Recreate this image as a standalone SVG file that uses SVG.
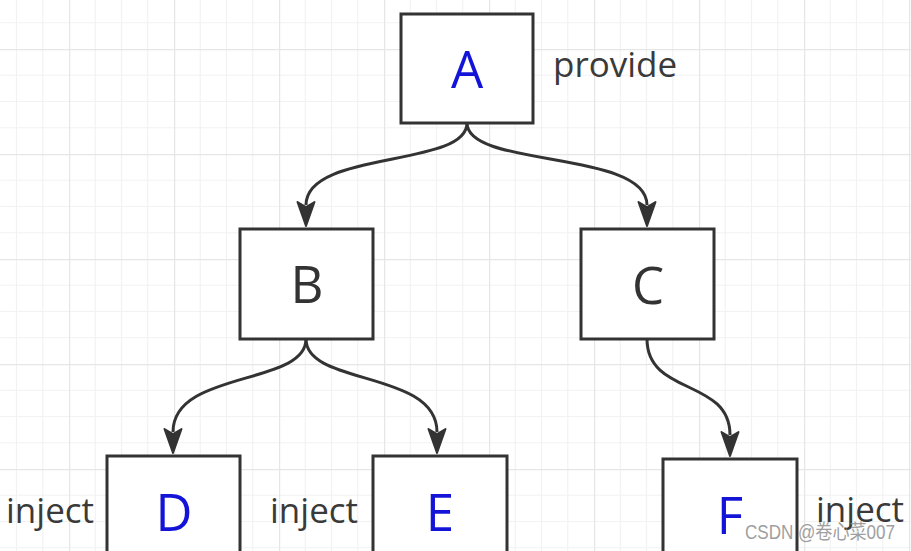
<svg xmlns="http://www.w3.org/2000/svg" width="911" height="551" viewBox="0 0 911 551">
  <defs>
    <pattern id="grid" patternUnits="userSpaceOnUse" x="69" y="49" width="105" height="105">
      <path d="M26.25 0V105M52.5 0V105M78.75 0V105M0 26.25H105M0 52.5H105M0 78.75H105" stroke="#f2f2f2" stroke-width="1.2" fill="none"/>
      <path d="M0.5 0V105M0 0.5H105" stroke="#e6e6e6" stroke-width="1.5" fill="none"/>
    </pattern>
    <marker id="arrow" markerUnits="userSpaceOnUse" markerWidth="30" markerHeight="22" refX="3" refY="8.5" orient="auto" overflow="visible">
      <path d="M0,0 L24,8.5 L0,17 L5,8.5 Z" fill="#333333" stroke="#333333" stroke-width="2" stroke-linejoin="round"/>
    </marker>
  </defs>
  <style>
    .box { fill: #ffffff; stroke: #333333; stroke-width: 3; }
    .edge { fill: none; stroke: #333333; stroke-width: 3; marker-end: url(#arrow); }
    .letter { font-family: "Open Sans", "Noto Sans", sans-serif; font-size: 51px; text-anchor: middle; }
    .blue { fill: #1414d8; }
    .gray { fill: #333333; }
    .label { font-family: "Open Sans", "Noto Sans", sans-serif; font-size: 35px; fill: #3a3a3a; }
    .wm { font-family: "Liberation Sans", "Noto Sans CJK SC", sans-serif; font-size: 20px; fill: #8f8f8f; opacity: 0.85; }
  </style>
  <rect x="0" y="0" width="911" height="551" fill="#ffffff"/>
  <rect x="0" y="0" width="911" height="551" fill="url(#grid)"/>

  <g id="connectors">
    <path class="edge" d="M467,123 C467,168 306,150 306,205"/>
    <path class="edge" d="M467,123 C467,168 647,150 647,205"/>
    <path class="edge" d="M306,339 C306,386 173,370 173,432"/>
    <path class="edge" d="M306,339 C306,386 437,370 437,432"/>
    <path class="edge" d="M647,339 C647,396 730,378 730,435"/>
  </g>

  <g id="node-A">
    <rect class="box" x="401" y="14" width="132" height="109"/>
    <text class="letter blue" x="467" y="88">A</text>
    <text class="label" x="553" y="77">provide</text>
  </g>
  <g id="node-B">
    <rect class="box" x="240" y="229" width="133" height="110"/>
    <text class="letter gray" x="307" y="303">B</text>
  </g>
  <g id="node-C">
    <rect class="box" x="581" y="229" width="133" height="110"/>
    <text class="letter gray" x="648" y="304">C</text>
  </g>
  <g id="node-D">
    <rect class="box" x="107" y="456" width="133" height="110"/>
    <text class="letter blue" x="174" y="531">D</text>
    <text class="label" x="6" y="523">inject</text>
  </g>
  <g id="node-E">
    <rect class="box" x="373" y="456" width="134" height="110"/>
    <text class="letter blue" x="440" y="531">E</text>
    <text class="label" x="270" y="523">inject</text>
  </g>
  <g id="node-F">
    <rect class="box" x="663" y="459" width="134" height="110"/>
    <text class="letter blue" x="730" y="534">F</text>
    <text class="label" x="816" y="522">inject</text>
  </g>

  <text class="wm" x="745" y="539" textLength="150" lengthAdjust="spacingAndGlyphs">CSDN @卷心菜007</text>
</svg>
